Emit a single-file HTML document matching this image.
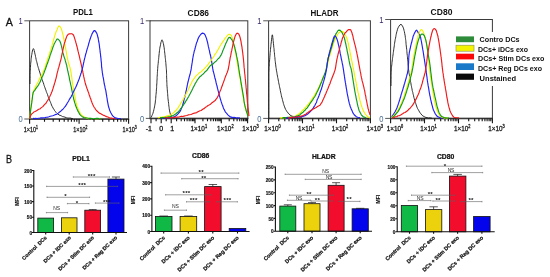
<!DOCTYPE html>
<html><head><meta charset="utf-8"><title>Figure</title>
<style>
html,body{margin:0;padding:0;background:#fff}
svg{display:block}
text{font-family:"Liberation Sans","DejaVu Sans",sans-serif}
.ttl{font-size:8.8px;font-weight:bold;fill:#111}
.pan{font-size:11.2px;fill:#111;stroke:#111;stroke-width:0.3px}
.tk{fill:#1a1a1a;stroke:#1a1a1a;stroke-width:0.3px}
.yl{font-size:8.6px;text-anchor:middle}
.lg{font-size:8px;font-weight:bold;fill:#111}
.bt{font-size:6.8px;font-weight:bold;text-anchor:middle;fill:#111;stroke:#111;stroke-width:0.22px}
.mfi{font-size:5px;font-weight:bold;text-anchor:middle;fill:#111;stroke:#111;stroke-width:0.12px}
.yt{font-size:4.7px;font-weight:bold;text-anchor:end;fill:#111;stroke:#111;stroke-width:0.15px}
.ns{letter-spacing:-0.2px;font-size:5px;text-anchor:middle;fill:#2a2a2a}
.st{letter-spacing:0.2px;font-size:6.2px;font-weight:bold;text-anchor:middle;fill:#111}
.xl{font-weight:bold;text-anchor:end;fill:#111;stroke:#111;stroke-width:0.22px}
</style></head><body>
<svg width="550" height="277" viewBox="0 0 550 277">
<rect width="550" height="277" fill="#fff"/>
<path d="M29.1,119.1 H129.1" stroke="#2a2a2a" stroke-width="1.3"/>
<rect x="29.6" y="20.8" width="99.0" height="98.2" fill="none" stroke="#3a3a3a" stroke-width="1"/>
<text transform="translate(20.5,23.8) scale(0.88,1)" class="yl" fill="#3a2a6a">1</text>
<text transform="translate(20.5,122.1) scale(0.88,1)" class="yl" fill="#4a6f96">0</text>
<path d="M24.3,20.8 h5 M24.3,119.0 h5" stroke="#444" stroke-width="0.9"/>
<path d="M29.6,119.0 v4.8 M44.5,119.0 v2.8 M53.2,119.0 v2.8 M59.4,119.0 v2.8 M64.2,119.0 v2.8 M68.1,119.0 v2.8 M71.4,119.0 v2.8 M74.3,119.0 v2.8 M76.8,119.0 v2.8 M79.1,119.0 v4.8 M94.0,119.0 v2.8 M102.7,119.0 v2.8 M108.9,119.0 v2.8 M113.7,119.0 v2.8 M117.6,119.0 v2.8 M120.9,119.0 v2.8 M123.8,119.0 v2.8 M126.3,119.0 v2.8 M128.6,119.0 v4.8" stroke="#151515" stroke-width="1.1" fill="none"/>
<text transform="translate(23.7,131.5) scale(0.76,1)" class="tk" font-size="7.2">1×10<tspan dy="-2.6" font-size="4.5">1</tspan></text>
<text transform="translate(73.2,131.5) scale(0.76,1)" class="tk" font-size="7.2">1×10<tspan dy="-2.6" font-size="4.5">2</tspan></text>
<text transform="translate(122.5,131.5) scale(0.76,1)" class="tk" font-size="7.2">1×10<tspan dy="-2.6" font-size="4.5">3</tspan></text>
<text x="73" y="14.6" class="ttl" textLength="19.9" lengthAdjust="spacingAndGlyphs">PDL1</text>
<text x="5.8" y="25.9" class="pan" textLength="7.1" lengthAdjust="spacingAndGlyphs">A</text>
<path d="M30.0,84.0 L30.0,83.1 L30.0,82.3 L30.0,81.1 L30.0,80.0 L30.1,78.6 L30.1,76.9 L30.1,75.4 L30.1,74.4 L30.2,72.6 L30.2,71.2 L30.3,70.2 L30.4,68.7 L30.5,67.5 L30.5,66.0 L30.6,64.7 L30.7,63.1 L30.9,62.0 L31.0,60.8 L31.1,59.4 L31.2,58.3 L31.4,57.1 L31.5,55.8 L31.8,54.4 L32.1,52.6 L32.4,51.0 L32.8,49.6 L33.1,49.2 L33.4,48.6 L33.8,49.1 L34.2,50.5 L34.6,52.2 L35.0,54.2 L35.3,55.1 L35.5,56.5 L35.8,57.7 L36.1,59.3 L36.4,60.7 L36.7,61.6 L37.0,62.8 L37.3,64.1 L37.6,65.5 L37.9,66.3 L38.2,67.4 L38.6,68.5 L39.0,70.0 L39.3,70.9 L39.7,72.0 L40.0,73.2 L40.4,74.4 L40.8,75.8 L41.2,76.9 L41.7,78.3 L42.1,79.6 L42.6,80.9 L43.0,82.1 L43.4,82.9 L43.8,84.4 L44.2,85.6 L44.6,86.8 L45.0,87.8 L45.4,89.1 L45.9,90.1 L46.3,91.6 L46.7,92.6 L47.2,93.7 L47.6,94.7 L48.0,96.2 L48.5,97.6 L49.0,98.4 L49.5,100.1 L50.0,101.2 L50.5,102.3 L51.0,103.6 L51.5,105.0 L52.0,106.2 L52.5,106.8 L53.0,108.1 L53.8,109.1 L54.6,110.6 L55.4,111.5 L56.2,112.6 L57.1,113.5 L58.0,114.0 L59.0,115.0 L60.1,115.3 L61.3,115.8 L62.5,116.6 L63.8,116.8 L65.0,117.2 L66.4,117.7 L67.9,118.1 L69.4,118.0 L70.9,118.1 L72.1,118.7 L73.0,118.6" fill="none" stroke="#1a1a1a" stroke-width="0.9" stroke-linejoin="round"/>
<path d="M29.8,118.6 L29.9,117.7 L30.0,117.0 L30.1,115.8 L30.2,114.2 L30.3,112.8 L30.4,111.4 L30.6,110.1 L30.7,108.9 L30.9,107.6 L31.1,106.3 L31.3,105.2 L31.4,103.7 L31.6,102.4 L31.8,101.3 L32.0,99.9 L32.2,98.6 L32.3,97.8 L32.4,96.4 L32.6,95.3 L32.8,93.9 L33.1,92.8 L33.5,91.5 L33.9,90.2 L34.4,89.4 L34.9,88.3 L35.4,86.8 L36.0,85.9 L36.6,84.6 L37.3,83.5 L37.9,82.2 L38.5,81.2 L39.0,80.1 L39.6,78.6 L40.2,77.4 L40.8,76.6 L41.4,75.6 L41.9,74.2 L42.5,73.2 L43.0,72.2 L43.5,71.0 L44.0,69.9 L44.5,68.6 L45.0,67.4 L45.4,66.3 L45.7,64.9 L46.1,63.7 L46.5,62.6 L47.0,60.8 L47.4,60.0 L47.7,58.9 L48.1,57.6 L48.5,56.4 L48.9,55.5 L49.4,54.0 L49.8,52.7 L50.2,51.5 L50.6,50.4 L51.0,48.8 L51.3,47.8 L51.7,46.6 L52.0,45.7 L52.4,44.2 L52.7,43.2 L53.1,41.6 L53.4,40.4 L53.7,39.3 L54.1,38.3 L54.4,37.0 L54.7,35.8 L55.0,34.8 L55.6,33.3 L56.1,31.6 L56.7,30.6 L57.2,29.4 L57.6,28.1 L58.0,27.3 L58.7,26.1 L59.4,26.1 L60.0,26.7 L60.6,27.5 L61.3,28.8 L62.0,30.9 L62.3,32.1 L62.5,32.9 L62.8,34.0 L63.1,35.3 L63.3,36.6 L63.6,37.9 L63.9,39.6 L64.2,40.6 L64.4,42.0 L64.7,43.8 L65.0,45.2 L65.2,46.4 L65.5,47.4 L65.7,48.9 L65.9,50.2 L66.2,51.2 L66.4,52.8 L66.6,54.1 L66.9,55.3 L67.1,56.5 L67.3,57.6 L67.6,58.8 L67.8,59.9 L68.0,60.8 L68.4,62.6 L68.8,63.8 L69.2,65.1 L69.5,65.8 L69.9,67.3 L70.2,68.5 L70.6,70.2 L70.8,71.2 L71.0,72.3 L71.2,73.3 L71.3,74.2 L71.5,75.8 L71.7,76.8 L71.9,78.1 L72.0,79.6 L72.2,80.9 L72.4,82.1 L72.6,83.7 L72.8,84.8 L73.0,85.9 L73.2,87.1 L73.4,88.7 L73.7,89.8 L73.9,91.3 L74.1,92.4 L74.3,93.6 L74.6,95.1 L74.8,96.5 L75.1,97.4 L75.3,98.9 L75.5,100.1 L75.8,101.2 L76.0,102.2 L76.4,103.4 L76.8,105.3 L77.2,106.7 L77.6,107.5 L78.1,108.8 L78.5,109.8 L79.0,111.0 L79.7,112.3 L80.4,113.6 L81.2,114.8 L82.1,115.3 L83.0,116.2 L84.0,116.9 L85.0,117.3 L86.1,117.7 L87.4,118.4 L89.0,118.6 L90.0,118.3 L91.2,118.6 L92.5,118.5 L93.9,118.5 L95.4,118.6 L96.8,118.7 L98.1,118.7 L99.3,118.5 L100.3,118.4 L101.0,118.6" fill="none" stroke="#f2f200" stroke-width="1.15" stroke-linejoin="round"/>
<path d="M29.9,118.6 L30.0,117.7 L30.1,116.6 L30.2,115.6 L30.3,114.3 L30.4,112.8 L30.5,111.2 L30.7,109.8 L30.8,108.7 L31.0,107.6 L31.2,106.4 L31.4,104.9 L31.6,103.8 L31.8,102.4 L31.9,101.1 L32.1,99.9 L32.3,98.5 L32.5,97.2 L32.6,95.7 L32.8,94.6 L33.0,93.4 L33.2,92.4 L33.9,91.3 L35.0,90.1 L35.5,89.0 L36.2,88.2 L36.9,87.1 L37.7,86.2 L38.5,85.0 L39.3,83.3 L40.0,82.2 L40.5,81.1 L41.0,79.7 L41.5,78.6 L42.0,77.3 L42.6,76.3 L43.1,75.0 L43.6,73.8 L44.1,72.5 L44.5,71.3 L45.0,70.1 L45.5,68.8 L46.0,67.3 L46.4,66.3 L46.8,64.8 L47.3,63.7 L47.7,62.8 L48.1,61.3 L48.6,60.1 L49.0,58.8 L49.4,58.0 L49.8,56.4 L50.2,55.1 L50.6,54.2 L51.1,52.5 L51.5,51.6 L51.9,50.3 L52.3,49.2 L52.6,48.2 L53.0,47.0 L53.7,45.4 L54.3,43.6 L54.9,42.7 L55.5,41.5 L56.0,40.7 L57.0,39.0 L58.0,39.1 L58.8,39.9 L59.7,40.8 L60.6,42.9 L60.9,44.0 L61.2,45.2 L61.5,46.2 L61.8,47.5 L62.1,48.9 L62.4,50.4 L62.7,51.8 L63.0,52.9 L63.4,54.2 L63.7,55.5 L64.1,56.8 L64.5,58.1 L65.0,59.3 L65.3,60.7 L65.7,62.1 L66.0,63.0 L66.4,64.6 L66.7,65.4 L66.9,66.8 L67.2,68.2 L67.6,70.1 L67.8,70.9 L68.0,72.0 L68.3,73.2 L68.5,74.5 L68.8,75.4 L69.1,76.7 L69.4,78.4 L69.6,79.8 L69.9,80.9 L70.2,82.2 L70.5,83.7 L70.7,84.7 L71.0,85.9 L71.3,87.2 L71.6,88.8 L71.8,90.0 L72.1,91.3 L72.4,92.9 L72.7,94.3 L72.9,95.3 L73.2,96.7 L73.5,97.7 L73.7,99.1 L74.0,100.0 L74.4,101.5 L74.8,102.9 L75.2,104.1 L75.6,105.6 L76.1,106.7 L76.5,107.7 L77.0,108.9 L77.6,110.2 L78.2,111.7 L78.8,112.5 L79.5,114.0 L80.2,114.8 L81.0,115.6 L81.9,116.4 L82.9,117.1 L83.9,117.5 L85.3,117.7 L87.0,118.0 L88.0,118.2 L89.2,118.4 L90.6,118.3 L92.1,118.5 L93.6,118.7 L95.1,118.5 L96.6,118.4 L98.0,118.4 L99.2,118.7 L100.2,118.7 L101.0,118.6" fill="none" stroke="#0e9a1e" stroke-width="1.15" stroke-linejoin="round"/>
<path d="M29.6,118.6 L29.9,117.9 L30.3,116.5 L31.0,114.9 L31.8,113.9 L32.7,113.1 L33.8,112.1 L35.0,111.5 L36.1,110.9 L37.3,110.3 L38.6,109.3 L39.8,109.0 L41.0,107.9 L42.1,107.1 L43.1,106.4 L44.0,105.2 L45.0,104.1 L46.0,103.2 L46.6,102.0 L47.3,101.0 L47.9,100.1 L48.6,99.0 L49.2,97.5 L49.8,96.5 L50.4,95.3 L51.0,94.0 L51.4,92.8 L51.9,91.8 L52.3,90.8 L52.7,89.4 L53.1,88.2 L53.5,86.8 L53.9,85.6 L54.3,84.5 L54.6,83.0 L55.0,82.2 L55.3,81.0 L55.7,79.4 L56.0,78.6 L56.3,77.1 L56.6,76.1 L56.8,74.9 L57.1,73.4 L57.4,72.4 L57.7,71.2 L58.0,70.2 L58.3,68.6 L58.7,67.7 L59.0,66.6 L59.3,65.3 L59.7,64.1 L60.0,62.7 L60.3,61.6 L60.7,60.3 L61.0,59.1 L61.3,57.9 L61.5,56.6 L61.8,55.1 L62.1,54.0 L62.4,52.6 L62.6,51.0 L62.9,50.0 L63.2,48.6 L63.5,47.1 L63.7,46.3 L64.0,44.8 L64.4,43.3 L64.9,42.0 L65.3,40.5 L65.8,39.1 L66.2,38.0 L66.6,36.9 L67.0,35.9 L68.2,34.3 L69.4,33.8 L70.5,33.8 L71.8,33.7 L73.0,34.4 L73.5,35.3 L73.9,36.1 L74.3,37.2 L74.7,38.6 L75.2,40.2 L75.6,41.3 L76.0,43.0 L76.3,43.9 L76.6,45.3 L76.9,46.2 L77.2,47.4 L77.5,48.7 L77.8,50.0 L78.1,51.4 L78.4,52.4 L78.7,53.9 L79.0,54.8 L79.3,56.0 L79.5,57.1 L79.8,58.3 L80.1,59.8 L80.4,60.9 L80.6,61.8 L80.9,63.0 L81.2,64.3 L81.5,65.7 L81.7,66.9 L82.0,68.1 L82.3,69.3 L82.5,70.3 L82.8,71.7 L83.0,72.9 L83.3,74.4 L83.6,75.7 L83.8,76.9 L84.1,78.2 L84.4,79.7 L84.7,80.6 L85.0,82.2 L85.4,83.5 L85.7,84.8 L86.1,85.7 L86.5,87.0 L86.9,88.2 L87.4,89.4 L87.8,90.8 L88.2,91.8 L88.6,92.7 L89.0,94.2 L89.4,95.3 L89.9,96.7 L90.3,98.0 L90.8,99.0 L91.2,100.6 L91.7,101.8 L92.1,102.9 L92.6,104.0 L93.0,105.0 L93.6,106.2 L94.3,107.5 L94.9,108.2 L95.5,109.3 L96.2,110.2 L97.0,111.0 L97.9,111.8 L98.9,112.8 L99.9,113.4 L100.9,113.7 L102.0,114.6 L103.0,115.1 L104.2,115.4 L105.4,116.1 L106.6,116.6 L107.8,117.0 L109.0,117.6 L110.3,118.1 L111.7,118.1 L113.0,118.5 L114.2,118.6 L115.0,118.6" fill="none" stroke="#f01818" stroke-width="1.15" stroke-linejoin="round"/>
<path d="M33.0,118.6 L33.7,118.4 L34.7,118.6 L35.8,118.4 L37.0,118.5 L38.4,118.3 L39.8,118.1 L41.2,117.8 L42.5,117.9 L43.8,117.8 L45.0,117.6 L46.4,117.2 L47.7,117.1 L49.0,116.7 L50.2,116.3 L51.5,116.0 L52.7,115.7 L53.9,115.3 L55.0,114.8 L56.1,114.4 L57.2,113.9 L58.3,113.1 L59.3,112.2 L60.3,111.6 L61.3,110.6 L62.2,109.8 L63.0,109.1 L63.9,108.0 L64.6,107.0 L65.4,106.4 L66.0,105.3 L66.7,104.1 L67.3,103.0 L68.0,102.0 L68.6,101.0 L69.2,99.8 L69.9,98.6 L70.5,97.6 L71.1,96.8 L71.8,95.3 L72.4,94.2 L73.0,92.8 L73.5,91.8 L74.0,90.8 L74.5,89.8 L75.0,88.6 L75.6,87.5 L76.1,86.4 L76.6,85.3 L77.1,84.3 L77.5,82.9 L78.0,81.8 L78.4,80.8 L78.9,79.6 L79.3,78.6 L79.7,77.1 L80.1,76.1 L80.5,74.9 L80.9,73.5 L81.3,72.7 L81.6,71.1 L82.0,69.8 L82.3,68.8 L82.6,67.5 L82.9,66.6 L83.1,65.3 L83.4,64.0 L83.6,62.8 L83.9,62.0 L84.1,60.5 L84.4,59.6 L84.7,58.2 L85.0,57.2 L85.3,55.8 L85.6,54.5 L86.0,53.3 L86.3,52.4 L86.6,51.0 L87.0,49.7 L87.4,48.3 L87.7,47.4 L88.0,46.4 L88.4,45.1 L88.7,43.7 L89.0,42.8 L89.5,41.2 L89.9,39.7 L90.4,38.3 L90.8,37.0 L91.2,36.1 L91.6,35.2 L92.0,33.9 L92.9,32.4 L93.8,30.9 L94.6,30.6 L95.4,31.1 L96.2,32.4 L97.0,33.8 L97.3,34.8 L97.6,36.0 L97.9,37.3 L98.2,38.2 L98.4,39.7 L98.7,41.5 L99.0,42.8 L99.2,44.0 L99.3,45.0 L99.5,46.4 L99.6,47.8 L99.8,48.7 L100.0,50.3 L100.1,51.7 L100.3,53.1 L100.5,54.2 L100.6,55.7 L100.7,56.7 L100.9,57.9 L101.0,58.9 L101.1,60.6 L101.3,61.8 L101.4,62.9 L101.5,64.0 L101.5,65.4 L101.6,66.5 L101.7,67.7 L101.9,68.7 L102.0,70.0 L102.2,71.0 L102.3,72.5 L102.5,73.4 L102.7,74.8 L102.9,76.2 L103.2,77.4 L103.4,78.3 L103.6,79.6 L103.8,81.0 L104.0,82.1 L104.2,83.5 L104.5,84.8 L104.8,85.8 L105.0,87.2 L105.2,88.3 L105.5,89.3 L105.8,90.6 L106.0,91.8 L106.2,93.1 L106.4,94.6 L106.6,95.4 L106.8,96.9 L107.0,98.0 L107.2,99.3 L107.4,100.8 L107.6,101.8 L107.8,102.8 L108.0,103.8 L108.3,105.6 L108.6,106.8 L108.9,107.7 L109.3,108.9 L109.6,110.2 L110.0,110.9 L110.7,112.5 L111.4,113.7 L112.2,115.1 L113.0,116.1 L114.3,117.2 L115.6,117.9 L117.0,118.2 L118.5,118.5 L120.0,118.5 L121.0,118.7" fill="none" stroke="#2020f0" stroke-width="1.15" stroke-linejoin="round"/>
<path d="M149.5,118.5 H248.3" stroke="#2a2a2a" stroke-width="1.3"/>
<rect x="150.0" y="20.8" width="97.8" height="97.6" fill="none" stroke="#3a3a3a" stroke-width="1"/>
<text transform="translate(142.0,23.8) scale(0.88,1)" class="yl" fill="#3a2a6a">1</text>
<text transform="translate(142.0,121.5) scale(0.88,1)" class="yl" fill="#4a6f96">0</text>
<path d="M145.8,20.8 h5 M145.8,118.4 h5" stroke="#444" stroke-width="0.9"/>
<path d="M151,118.4 v4.8 M161.2,118.4 v4.8 M171.2,118.4 v4.8 M156.1,118.4 v2.8 M166.2,118.4 v2.8" stroke="#151515" stroke-width="1.1"/>
<path d="M176.6,118.4 v2.8 M181.2,118.4 v2.8 M184.5,118.4 v2.8 M187.1,118.4 v2.8 M189.2,118.4 v2.8 M190.9,118.4 v2.8 M192.5,118.4 v2.8 M193.8,118.4 v2.8 M195.0,118.4 v4.8 M202.9,118.4 v2.8 M207.5,118.4 v2.8 M210.8,118.4 v2.8 M213.4,118.4 v2.8 M215.5,118.4 v2.8 M217.2,118.4 v2.8 M218.8,118.4 v2.8 M220.1,118.4 v2.8 M221.3,118.4 v4.8 M229.2,118.4 v2.8 M233.8,118.4 v2.8 M237.1,118.4 v2.8 M239.7,118.4 v2.8 M241.8,118.4 v2.8 M243.5,118.4 v2.8 M245.1,118.4 v2.8 M246.4,118.4 v2.8 M247.6,118.4 v4.8" stroke="#151515" stroke-width="1.1" fill="none"/>
<text x="148.9" y="131" class="tk" font-size="7" text-anchor="middle">-1</text>
<text x="161.2" y="131" class="tk" font-size="7" text-anchor="middle">0</text>
<text x="172.2" y="131" class="tk" font-size="7" text-anchor="middle">1</text>
<text transform="translate(190.6,131.0) scale(0.87,1)" class="tk" font-size="7.3">1×10<tspan dy="-2.6" font-size="4.5">1</tspan></text>
<text transform="translate(217.1,131.0) scale(0.87,1)" class="tk" font-size="7.3">1×10<tspan dy="-2.6" font-size="4.5">2</tspan></text>
<text transform="translate(242.2,131.0) scale(0.87,1)" class="tk" font-size="7.3">1×10<tspan dy="-2.6" font-size="4.5">3</tspan></text>
<text x="187.6" y="16.2" class="ttl" textLength="21.4" lengthAdjust="spacingAndGlyphs">CD86</text>
<path d="M151.0,117.6 L151.4,117.0 L151.9,115.7 L152.5,114.3 L153.0,113.2 L153.3,111.8 L153.6,111.1 L153.9,109.5 L154.2,108.4 L154.5,106.9 L154.7,105.8 L155.0,104.1 L155.2,103.0 L155.3,102.0 L155.4,100.9 L155.6,99.5 L155.7,98.4 L155.8,97.0 L155.9,95.5 L156.0,94.6 L156.2,93.0 L156.3,91.7 L156.4,89.9 L156.5,88.9 L156.6,87.7 L156.6,86.7 L156.7,85.1 L156.8,83.9 L156.9,82.7 L156.9,81.2 L157.0,80.1 L157.1,78.8 L157.1,77.4 L157.2,76.2 L157.3,74.8 L157.4,73.4 L157.4,72.2 L157.5,71.4 L157.6,69.9 L157.7,68.5 L157.8,66.9 L157.9,65.6 L158.1,64.2 L158.2,63.3 L158.3,61.9 L158.4,60.7 L158.6,59.5 L158.7,58.2 L158.8,57.3 L158.9,56.0 L159.0,55.0 L159.2,53.5 L159.3,52.0 L159.5,50.7 L159.6,49.3 L159.8,48.3 L160.0,47.0 L160.3,45.9 L160.6,44.3 L160.9,42.5 L161.3,41.5 L161.7,40.2 L162.0,39.8 L162.3,40.4 L162.7,40.9 L163.0,42.2 L163.4,43.7 L163.7,45.0 L164.0,47.1 L164.2,47.9 L164.3,49.2 L164.5,50.4 L164.6,51.9 L164.8,53.3 L164.9,54.5 L165.1,55.8 L165.2,57.3 L165.4,58.6 L165.5,59.7 L165.6,60.8 L165.8,62.6 L165.9,63.8 L166.0,65.1 L166.1,66.2 L166.2,67.3 L166.3,68.3 L166.4,69.8 L166.5,70.9 L166.5,72.1 L166.5,73.2 L166.6,74.4 L166.6,75.6 L166.6,77.1 L166.7,78.1 L166.7,79.5 L166.8,81.0 L166.8,82.3 L166.9,83.4 L166.9,84.6 L167.0,86.2 L167.1,87.0 L167.2,88.3 L167.3,89.8 L167.4,91.1 L167.5,92.2 L167.6,93.4 L167.7,94.8 L167.8,96.3 L167.9,97.4 L168.0,98.9 L168.2,100.0 L168.3,101.2 L168.4,101.8 L168.6,103.3 L168.7,104.7 L168.9,106.2 L169.1,107.5 L169.2,108.6 L169.4,110.0 L169.6,110.9 L169.8,112.0 L170.0,112.9 L170.6,114.9 L171.3,115.9 L171.9,116.8 L172.4,117.6" fill="none" stroke="#1a1a1a" stroke-width="0.9" stroke-linejoin="round"/>
<path d="M160.0,117.7 L160.7,117.5 L161.7,117.7 L162.9,117.8 L164.2,117.8 L165.6,118.0 L167.1,117.9 L168.5,117.6 L169.8,117.5 L171.0,117.7 L172.0,117.5 L173.6,117.0 L174.9,116.6 L176.0,115.8 L177.0,114.8 L178.0,113.8 L178.8,112.8 L179.5,112.2 L180.2,111.2 L180.8,110.0 L181.4,108.4 L182.0,107.1 L182.4,106.2 L182.7,105.0 L183.1,103.8 L183.4,102.5 L183.7,101.3 L184.0,99.9 L184.4,98.6 L184.7,97.5 L185.0,96.2 L185.3,94.9 L185.5,93.6 L185.8,92.3 L186.1,91.0 L186.4,89.9 L186.6,88.4 L186.9,87.3 L187.2,85.6 L187.5,84.4 L187.7,83.2 L188.0,82.0 L188.3,80.9 L188.6,79.7 L188.9,78.5 L189.2,77.2 L189.6,75.7 L189.9,74.8 L190.2,73.6 L190.5,72.4 L190.7,71.1 L191.0,70.1 L191.2,68.9 L191.4,67.2 L191.6,66.2 L191.8,64.8 L192.0,63.5 L192.2,62.4 L192.4,61.1 L192.6,59.6 L192.8,58.1 L193.0,57.2 L193.3,55.6 L193.5,54.4 L193.8,53.4 L194.1,51.8 L194.4,50.6 L194.8,49.7 L195.1,48.5 L195.4,47.0 L195.7,46.0 L196.0,44.9 L196.4,43.4 L196.8,42.2 L197.3,41.3 L197.7,39.7 L198.1,38.7 L198.5,37.7 L199.0,36.8 L199.9,35.5 L200.8,34.4 L201.7,33.5 L202.6,33.1 L203.5,33.4 L204.3,33.8 L205.2,35.1 L206.0,37.2 L206.3,37.7 L206.6,38.8 L206.9,40.0 L207.2,41.1 L207.6,42.5 L207.8,43.6 L208.1,45.0 L208.4,46.7 L208.7,47.6 L209.0,49.2 L209.3,50.1 L209.6,51.7 L209.8,52.8 L210.1,54.0 L210.4,55.0 L210.7,56.2 L210.9,57.8 L211.2,58.6 L211.4,59.8 L211.6,61.2 L211.8,62.6 L212.0,63.5 L212.2,65.1 L212.4,66.1 L212.5,67.2 L212.7,68.4 L213.0,69.9 L213.2,71.3 L213.5,72.1 L213.8,73.2 L214.1,74.4 L214.4,75.6 L214.7,77.0 L215.0,78.5 L215.4,79.3 L215.7,80.6 L216.0,82.2 L216.3,83.5 L216.6,84.7 L216.9,85.5 L217.2,86.8 L217.5,88.4 L217.8,89.3 L218.1,90.6 L218.4,91.6 L218.7,92.6 L219.0,93.9 L219.4,95.5 L219.8,96.9 L220.1,98.1 L220.5,99.3 L220.9,100.6 L221.2,101.7 L221.6,102.9 L222.0,104.2 L222.5,105.2 L223.0,106.7 L223.4,108.0 L223.9,109.1 L224.4,109.8 L225.0,111.2 L225.7,112.4 L226.5,113.1 L227.3,114.2 L228.1,115.1 L229.0,115.8 L230.2,116.9 L231.4,117.1 L232.7,117.6 L234.0,117.4 L235.2,117.5 L236.6,118.0 L238.0,117.9 L239.2,118.0 L240.0,117.8" fill="none" stroke="#2020f0" stroke-width="1.15" stroke-linejoin="round"/>
<path d="M158.0,117.6 L158.9,117.6 L160.1,117.3 L161.6,117.3 L163.2,116.7 L164.7,116.7 L166.0,116.4 L167.3,115.9 L168.6,115.7 L169.8,115.1 L170.9,114.7 L172.0,113.9 L173.1,113.1 L174.1,112.2 L175.1,111.2 L176.1,110.3 L177.0,109.2 L177.7,108.3 L178.4,107.3 L179.1,106.0 L179.7,105.3 L180.3,104.0 L181.0,102.8 L181.7,101.9 L182.3,100.9 L183.0,99.5 L183.7,98.5 L184.3,97.1 L185.0,96.2 L185.6,94.9 L186.1,93.8 L186.7,92.7 L187.3,91.7 L187.9,90.6 L188.4,89.2 L189.0,88.0 L189.6,86.9 L190.1,85.4 L190.7,84.4 L191.2,83.5 L191.8,82.3 L192.4,80.8 L193.0,80.2 L193.8,78.8 L194.6,78.0 L195.4,76.7 L196.3,75.6 L197.2,74.9 L198.0,74.2 L199.0,73.1 L199.9,72.6 L200.9,71.9 L201.9,71.0 L203.0,69.9 L203.8,69.2 L204.6,68.3 L205.5,67.3 L206.4,66.4 L207.4,65.4 L208.3,64.2 L209.2,62.9 L210.0,61.9 L210.7,61.0 L211.4,60.1 L212.1,58.8 L212.8,57.7 L213.5,56.8 L214.2,55.8 L214.8,54.6 L215.4,53.9 L216.0,53.2 L216.8,51.7 L217.5,50.6 L218.1,49.5 L218.7,48.4 L219.4,47.3 L220.0,46.0 L220.7,45.0 L221.4,43.7 L222.1,43.0 L222.7,41.8 L223.4,40.9 L224.0,40.2 L224.8,38.7 L225.6,37.6 L226.3,36.9 L227.0,36.0 L228.2,34.6 L229.4,34.2 L230.3,34.7 L231.2,35.3 L232.0,37.2 L232.4,37.8 L232.7,39.1 L233.0,40.5 L233.4,42.0 L233.7,43.5 L234.0,45.1 L234.2,46.2 L234.5,47.3 L234.8,48.3 L235.0,50.0 L235.2,51.1 L235.5,52.1 L235.8,53.6 L236.0,55.1 L236.2,56.3 L236.4,57.0 L236.6,58.1 L236.8,59.4 L236.9,60.5 L237.1,61.9 L237.3,63.1 L237.5,64.2 L237.8,65.5 L238.0,67.0 L238.2,68.3 L238.4,69.1 L238.6,70.3 L238.8,71.4 L239.0,73.0 L239.3,74.0 L239.5,75.7 L239.7,76.8 L240.0,78.1 L240.2,79.2 L240.4,80.5 L240.6,81.8 L240.8,83.1 L241.0,84.0 L241.2,85.3 L241.5,87.0 L241.7,88.1 L241.9,89.2 L242.1,90.2 L242.2,91.4 L242.4,92.8 L242.6,93.6 L242.8,94.9 L243.0,96.1 L243.2,97.2 L243.4,98.7 L243.6,100.0 L243.8,101.2 L244.0,102.4 L244.3,103.4 L244.5,104.5 L244.7,105.8 L245.0,106.9 L245.4,108.3 L245.9,110.2 L246.4,111.3 L246.9,113.0 L247.3,114.4 L247.7,115.0 L248.0,116.0" fill="none" stroke="#f2f200" stroke-width="1.15" stroke-linejoin="round"/>
<path d="M160.0,117.6 L160.8,117.8 L161.9,117.6 L163.2,117.5 L164.6,117.4 L166.0,117.2 L167.1,117.2 L168.3,116.9 L169.6,116.9 L170.8,116.6 L171.9,115.8 L173.0,115.6 L174.1,115.0 L175.2,114.2 L176.2,113.5 L177.1,112.7 L178.0,112.1 L178.9,111.0 L179.7,110.0 L180.4,109.0 L181.2,108.1 L182.0,107.0 L182.7,105.9 L183.3,105.2 L184.0,104.0 L184.7,103.2 L185.3,102.1 L186.0,100.8 L186.7,100.0 L187.3,98.7 L188.0,97.6 L188.7,96.5 L189.3,95.3 L190.0,94.0 L190.6,92.7 L191.1,91.9 L191.7,90.8 L192.3,89.4 L192.9,88.3 L193.4,87.0 L194.0,86.2 L194.7,84.8 L195.3,83.3 L196.0,82.4 L196.7,81.3 L197.3,79.9 L198.0,79.2 L199.0,77.8 L199.9,76.7 L200.9,76.1 L202.0,74.9 L203.0,74.2 L204.0,73.1 L205.1,71.8 L206.1,71.0 L207.0,70.2 L207.9,68.9 L208.6,67.9 L209.2,67.1 L210.0,66.0 L210.9,65.2 L211.9,64.5 L213.0,64.0 L214.0,62.9 L215.0,61.9 L216.1,61.2 L217.1,60.0 L218.0,58.9 L218.8,58.3 L219.6,57.4 L220.3,56.2 L221.0,55.2 L221.5,54.2 L222.0,53.0 L222.5,51.6 L223.0,50.2 L223.5,49.3 L224.0,48.1 L224.5,46.7 L225.0,45.5 L225.5,44.3 L226.0,43.0 L226.5,42.1 L227.0,41.0 L227.8,39.3 L228.6,37.8 L229.4,37.4 L230.3,37.6 L231.2,38.8 L232.0,39.8 L232.5,41.0 L233.0,42.0 L233.5,43.4 L234.0,45.0 L234.3,45.9 L234.7,47.1 L235.0,48.7 L235.3,49.9 L235.7,51.5 L236.0,52.8 L236.3,54.0 L236.5,55.4 L236.8,56.9 L237.1,58.2 L237.3,59.4 L237.6,60.6 L237.8,61.7 L238.0,62.9 L238.2,64.4 L238.4,66.0 L238.6,66.8 L238.8,68.6 L239.0,70.0 L239.2,71.0 L239.3,72.0 L239.5,73.5 L239.7,74.3 L239.9,75.7 L240.2,77.0 L240.4,78.1 L240.6,79.4 L240.8,81.0 L241.0,82.1 L241.2,83.3 L241.4,84.6 L241.6,85.4 L241.8,86.9 L242.0,88.1 L242.2,89.1 L242.4,90.4 L242.6,91.8 L242.8,92.7 L243.0,94.1 L243.2,95.0 L243.4,96.5 L243.6,97.5 L243.8,98.9 L243.9,100.0 L244.1,101.5 L244.3,102.6 L244.5,103.7 L244.8,105.0 L245.0,106.0 L245.3,107.4 L245.7,108.5 L246.0,110.0 L246.4,111.3 L246.8,112.5 L247.2,113.5 L247.5,114.7 L247.8,115.8 L248.0,116.4" fill="none" stroke="#0e9a1e" stroke-width="1.15" stroke-linejoin="round"/>
<path d="M165.0,117.7 L165.8,117.5 L166.9,117.8 L168.2,117.7 L169.6,117.8 L171.1,117.7 L172.6,117.6 L174.0,117.3 L175.2,117.1 L176.5,117.2 L177.8,117.1 L179.1,117.0 L180.4,116.5 L181.6,116.2 L182.8,116.5 L184.0,116.1 L185.4,115.7 L186.8,115.5 L188.1,114.9 L189.4,114.8 L190.7,114.5 L192.0,114.1 L193.2,113.5 L194.3,113.1 L195.5,112.9 L196.7,112.6 L197.9,111.8 L199.0,111.2 L200.0,110.8 L201.1,110.5 L202.1,109.7 L203.1,109.0 L204.1,108.6 L205.0,107.7 L206.0,106.9 L207.0,106.4 L208.0,105.5 L209.1,105.0 L210.1,104.5 L211.1,103.6 L212.0,102.8 L213.1,102.1 L214.1,101.2 L215.1,100.6 L216.1,99.1 L217.0,98.2 L217.5,97.0 L218.1,96.2 L218.6,95.0 L219.1,94.0 L219.5,92.6 L220.0,91.3 L220.5,90.2 L221.0,89.2 L221.4,87.8 L221.9,86.5 L222.4,85.3 L222.8,83.9 L223.3,82.7 L223.7,81.6 L224.2,80.3 L224.6,79.2 L225.0,77.9 L225.5,76.5 L226.0,75.3 L226.4,74.4 L226.8,73.3 L227.2,72.5 L227.6,71.2 L228.0,70.1 L228.3,69.0 L228.5,67.8 L228.7,66.6 L229.0,65.3 L229.2,63.9 L229.4,62.6 L229.6,61.2 L229.8,60.3 L230.0,59.0 L230.2,57.5 L230.5,56.6 L230.8,55.2 L231.0,53.9 L231.2,52.6 L231.5,51.2 L231.8,50.4 L232.0,48.8 L232.3,47.6 L232.6,46.5 L232.9,44.7 L233.1,43.6 L233.4,42.3 L233.7,41.0 L234.0,40.2 L234.5,38.3 L235.0,36.6 L235.5,35.6 L236.0,34.4 L236.8,33.4 L237.6,33.2 L238.2,33.6 L238.9,34.2 L239.6,36.1 L239.9,36.8 L240.2,38.0 L240.5,39.2 L240.8,40.5 L241.1,41.9 L241.3,43.6 L241.6,44.8 L241.8,46.3 L242.0,47.0 L242.1,48.6 L242.3,49.4 L242.4,50.5 L242.6,52.1 L242.8,53.2 L242.9,54.6 L243.1,55.8 L243.2,57.1 L243.3,58.0 L243.5,59.6 L243.6,60.7 L243.7,62.2 L243.8,63.0 L243.9,64.3 L244.0,65.9 L244.1,67.4 L244.3,68.5 L244.4,70.1 L244.5,71.2 L244.6,72.2 L244.7,73.4 L244.9,74.7 L245.0,75.6 L245.1,77.0 L245.2,78.4 L245.4,79.4 L245.5,80.8 L245.6,82.0 L245.7,83.3 L245.9,84.8 L246.0,86.1 L246.1,87.4 L246.2,88.3 L246.3,89.4 L246.4,90.7 L246.5,91.9 L246.6,93.2 L246.8,94.7 L246.9,95.9 L247.0,97.0 L247.1,98.2 L247.2,99.4 L247.3,100.6 L247.4,101.9 L247.5,102.8 L247.6,104.2 L247.8,105.5 L247.9,106.9 L248.1,108.4 L248.2,109.6 L248.4,111.2 L248.6,112.5 L248.7,113.4 L248.8,114.6 L248.9,115.2 L249.0,116.0" fill="none" stroke="#f01818" stroke-width="1.15" stroke-linejoin="round"/>
<path d="M268.1,118.5 H370.9" stroke="#2a2a2a" stroke-width="1.3"/>
<rect x="268.6" y="20.8" width="101.8" height="97.6" fill="none" stroke="#3a3a3a" stroke-width="1"/>
<text transform="translate(259.4,23.8) scale(0.88,1)" class="yl" fill="#3a2a6a">1</text>
<text transform="translate(259.4,121.5) scale(0.88,1)" class="yl" fill="#4a6f96">0</text>
<path d="M263.2,20.8 h5 M263.2,118.4 h5" stroke="#444" stroke-width="0.9"/>
<path d="M268.6,118.4 v4.8 M278.8,118.4 v2.8 M284.8,118.4 v2.8 M289.0,118.4 v2.8 M292.3,118.4 v2.8 M295.0,118.4 v2.8 M297.3,118.4 v2.8 M299.2,118.4 v2.8 M301.0,118.4 v2.8 M302.5,118.4 v4.8 M312.7,118.4 v2.8 M318.7,118.4 v2.8 M323.0,118.4 v2.8 M326.3,118.4 v2.8 M328.9,118.4 v2.8 M331.2,118.4 v2.8 M333.2,118.4 v2.8 M334.9,118.4 v2.8 M336.5,118.4 v4.8 M346.7,118.4 v2.8 M352.7,118.4 v2.8 M356.9,118.4 v2.8 M360.2,118.4 v2.8 M362.9,118.4 v2.8 M365.1,118.4 v2.8 M367.1,118.4 v2.8 M368.8,118.4 v2.8 M370.4,118.4 v4.8" stroke="#151515" stroke-width="1.1" fill="none"/>
<text transform="translate(264.2,130.6) scale(0.87,1)" class="tk" font-size="7.3">1×10<tspan dy="-2.6" font-size="4.5">0</tspan></text>
<text transform="translate(298.0,130.6) scale(0.87,1)" class="tk" font-size="7.3">1×10<tspan dy="-2.6" font-size="4.5">1</tspan></text>
<text transform="translate(331.8,130.6) scale(0.87,1)" class="tk" font-size="7.3">1×10<tspan dy="-2.6" font-size="4.5">2</tspan></text>
<text transform="translate(366.5,130.6) scale(0.87,1)" class="tk" font-size="7.3">1×10<tspan dy="-2.6" font-size="4.5">3</tspan></text>
<text x="310.6" y="16" class="ttl" textLength="28" lengthAdjust="spacingAndGlyphs">HLADR</text>
<path d="M268.9,118.0 L268.9,117.2 L268.9,116.4 L268.9,115.4 L268.9,114.5 L268.9,113.3 L268.9,112.1 L268.9,110.5 L268.9,109.4 L268.9,107.9 L268.9,106.5 L268.9,105.1 L268.9,103.7 L268.9,102.3 L268.9,101.1 L268.9,100.1 L268.9,98.8 L268.9,97.6 L268.9,96.0 L268.9,95.1 L268.9,93.8 L268.9,92.5 L268.9,91.4 L268.9,89.7 L268.9,88.8 L268.9,87.7 L268.9,86.1 L268.9,85.2 L268.9,84.2 L268.9,82.6 L268.9,81.5 L268.9,80.3 L268.9,78.8 L268.9,77.4 L268.9,76.2 L268.9,75.2 L268.9,73.8 L268.9,72.5 L269.0,71.3 L269.0,70.2 L269.1,68.7 L269.1,67.3 L269.2,66.5 L269.3,64.9 L269.3,63.7 L269.4,62.7 L269.5,61.1 L269.6,59.8 L269.7,58.9 L269.8,57.3 L269.9,56.1 L270.0,55.2 L270.1,53.5 L270.2,52.5 L270.4,50.8 L270.5,49.4 L270.6,48.0 L270.8,46.8 L270.9,45.5 L271.0,44.2 L271.2,43.0 L271.3,41.9 L271.4,41.2 L271.6,39.2 L271.8,37.4 L272.0,36.0 L272.2,34.8 L272.4,34.9 L272.5,35.3 L272.7,36.1 L272.8,37.6 L273.0,39.0 L273.1,40.5 L273.3,41.9 L273.4,43.3 L273.6,45.0 L273.7,45.9 L273.8,47.5 L274.0,48.5 L274.1,49.8 L274.2,51.5 L274.4,52.5 L274.5,54.2 L274.6,55.2 L274.7,56.7 L274.9,57.6 L275.0,59.2 L275.1,60.3 L275.3,61.5 L275.4,62.9 L275.6,64.0 L275.7,64.9 L275.8,66.0 L276.0,67.4 L276.2,68.4 L276.4,70.2 L276.6,71.1 L276.8,72.2 L277.0,73.5 L277.2,74.7 L277.5,76.1 L277.7,77.5 L278.0,78.7 L278.2,80.0 L278.5,81.3 L278.7,82.7 L279.0,84.1 L279.3,85.3 L279.5,86.7 L279.8,87.9 L280.1,89.1 L280.3,90.4 L280.6,92.1 L280.9,93.2 L281.2,94.4 L281.4,95.7 L281.7,97.1 L282.0,97.9 L282.4,99.4 L282.7,100.8 L283.1,102.0 L283.4,103.5 L283.8,104.7 L284.2,105.9 L284.6,106.9 L285.0,108.0 L285.6,109.4 L286.2,110.3 L286.9,111.7 L287.6,112.2 L288.3,113.4 L289.0,113.8 L290.1,115.2 L291.2,115.7 L292.5,116.3 L294.0,117.0 L295.3,117.5 L296.7,117.7 L298.3,117.9 L299.8,118.1 L301.1,117.7 L302.0,118.0" fill="none" stroke="#1a1a1a" stroke-width="0.9" stroke-linejoin="round"/>
<path d="M280.0,118.0 L280.8,117.9 L281.8,117.6 L283.0,117.9 L284.4,117.6 L285.9,117.6 L287.4,117.5 L288.9,117.4 L290.4,117.1 L291.8,117.0 L293.0,116.6 L294.0,116.2 L295.7,116.1 L297.0,115.0 L298.1,114.4 L299.0,114.0 L300.0,112.9 L301.1,112.2 L302.1,110.9 L303.0,110.0 L304.0,109.2 L305.0,107.8 L305.8,107.1 L306.7,106.3 L307.6,104.9 L308.4,104.1 L309.2,103.1 L310.0,102.1 L310.7,101.1 L311.4,100.1 L312.1,98.8 L312.7,97.9 L313.3,97.1 L314.0,96.2 L314.7,94.8 L315.3,93.9 L316.0,92.5 L316.7,91.7 L317.3,90.3 L318.0,89.0 L318.5,88.1 L319.0,86.7 L319.5,85.9 L320.0,84.8 L320.5,83.7 L321.0,82.3 L321.5,81.1 L322.0,79.8 L322.5,79.0 L323.0,77.7 L323.5,76.5 L324.0,75.4 L324.5,74.3 L325.0,72.8 L325.5,71.4 L326.0,70.1 L326.3,69.1 L326.7,67.7 L327.0,66.3 L327.3,65.5 L327.7,64.1 L328.0,62.7 L328.3,61.3 L328.7,60.3 L329.0,58.7 L329.3,57.3 L329.7,56.0 L330.0,54.9 L330.4,53.8 L330.7,52.4 L331.1,51.4 L331.5,50.0 L331.8,48.7 L332.2,47.5 L332.5,46.3 L332.9,45.2 L333.3,44.0 L333.6,43.0 L334.0,42.0 L334.6,40.7 L335.2,39.0 L335.8,38.1 L336.4,36.7 L336.9,35.9 L337.5,34.6 L338.0,34.0 L339.1,32.5 L340.0,31.9 L341.0,31.3 L342.5,31.5 L344.0,32.8 L344.6,33.9 L345.2,35.0 L345.9,36.0 L346.5,37.4 L347.0,38.8 L347.4,40.4 L347.7,41.4 L348.1,42.8 L348.4,44.0 L348.7,45.6 L349.0,47.2 L349.2,48.2 L349.5,49.1 L349.8,50.6 L350.0,51.9 L350.2,52.9 L350.5,54.6 L350.8,55.6 L351.0,56.9 L351.2,58.3 L351.5,59.5 L351.7,60.6 L352.0,62.0 L352.2,63.0 L352.5,64.2 L352.7,65.4 L353.0,67.0 L353.2,68.0 L353.4,69.2 L353.7,70.3 L353.9,71.3 L354.2,72.5 L354.4,73.8 L354.6,75.0 L354.9,76.6 L355.1,77.7 L355.4,78.7 L355.6,80.1 L355.8,81.3 L356.1,82.3 L356.3,83.9 L356.6,84.8 L356.8,86.4 L357.0,87.2 L357.3,88.5 L357.5,89.6 L357.8,91.1 L358.0,92.2 L358.3,93.4 L358.6,94.5 L358.9,95.9 L359.2,97.4 L359.5,98.3 L359.8,99.9 L360.1,101.0 L360.4,102.2 L360.8,103.4 L361.1,104.6 L361.5,106.0 L361.8,106.8 L362.2,107.9 L362.6,108.8 L363.0,109.8 L363.7,111.7 L364.4,112.6 L365.2,114.1 L366.0,114.9 L367.0,116.1 L368.2,116.9 L369.3,117.6 L370.0,118.0" fill="none" stroke="#f2f200" stroke-width="1.15" stroke-linejoin="round"/>
<path d="M282.0,118.0 L282.8,118.1 L283.8,117.6 L285.0,117.6 L286.4,117.5 L287.9,117.4 L289.4,117.4 L290.9,117.4 L292.4,117.1 L293.8,117.0 L295.0,116.7 L296.0,116.3 L297.7,115.9 L299.0,115.4 L300.1,114.7 L301.0,113.7 L302.0,112.9 L303.1,112.2 L304.1,111.0 L305.1,110.3 L306.1,108.8 L307.0,108.1 L307.7,107.1 L308.4,105.9 L309.1,105.1 L309.7,104.0 L310.3,103.2 L311.0,102.2 L311.7,101.1 L312.3,100.3 L313.0,99.3 L313.7,98.0 L314.3,97.3 L315.0,96.2 L315.6,95.2 L316.1,94.0 L316.7,92.8 L317.3,91.5 L317.9,90.6 L318.4,89.1 L319.0,88.1 L319.5,86.9 L320.0,85.8 L320.5,84.2 L321.1,82.9 L321.6,81.9 L322.1,80.5 L322.5,79.1 L323.0,78.0 L323.5,76.7 L324.0,75.7 L324.4,74.6 L324.8,73.4 L325.2,72.7 L325.6,71.5 L326.0,70.1 L326.3,68.8 L326.5,67.6 L326.7,66.6 L326.9,65.4 L327.1,64.1 L327.3,62.6 L327.5,61.5 L327.7,60.2 L328.0,58.9 L328.3,57.7 L328.7,56.4 L329.1,55.3 L329.4,54.1 L329.8,52.9 L330.2,51.3 L330.6,50.3 L331.0,49.2 L331.4,47.8 L331.8,46.4 L332.2,45.3 L332.5,43.5 L332.9,42.6 L333.3,41.3 L333.7,40.1 L334.0,38.9 L334.5,37.6 L335.0,36.0 L335.5,35.0 L335.9,33.8 L336.4,33.2 L337.3,31.7 L338.1,30.5 L339.0,30.1 L340.3,30.4 L341.6,32.0 L342.2,32.8 L342.8,34.3 L343.4,35.6 L344.0,37.1 L344.4,37.9 L344.7,39.5 L345.0,40.4 L345.3,42.1 L345.7,43.5 L346.0,44.8 L346.2,46.1 L346.5,47.6 L346.8,48.7 L347.0,49.8 L347.2,51.3 L347.5,52.4 L347.8,53.9 L348.0,55.0 L348.3,56.1 L348.5,57.9 L348.8,58.8 L349.0,60.2 L349.3,61.8 L349.5,62.7 L349.8,64.0 L350.0,65.2 L350.4,66.5 L350.7,67.4 L351.1,68.6 L351.4,70.2 L351.6,71.0 L351.8,72.2 L352.0,73.2 L352.2,74.5 L352.4,76.1 L352.6,77.5 L352.8,78.4 L353.0,79.8 L353.2,81.0 L353.4,82.5 L353.6,83.4 L353.8,84.6 L354.0,86.1 L354.2,87.1 L354.4,88.7 L354.6,89.7 L354.8,91.1 L355.0,92.2 L355.2,93.2 L355.5,94.8 L355.8,95.9 L356.0,97.1 L356.2,98.3 L356.5,99.8 L356.8,100.9 L357.0,101.9 L357.3,103.6 L357.6,104.8 L357.9,106.2 L358.3,107.4 L358.6,108.8 L359.0,110.2 L359.5,111.3 L360.1,112.4 L360.7,113.6 L361.3,114.8 L362.0,115.5 L363.4,116.9 L364.9,117.3 L366.0,118.0" fill="none" stroke="#0e9a1e" stroke-width="1.15" stroke-linejoin="round"/>
<path d="M286.0,118.0 L286.8,118.1 L287.7,117.9 L288.9,117.9 L290.2,117.6 L291.6,117.3 L293.1,117.3 L294.6,117.4 L296.1,116.9 L297.5,116.8 L298.8,117.0 L300.0,116.9 L301.0,116.8 L302.8,116.4 L304.1,115.9 L305.2,115.6 L306.1,115.0 L307.0,114.4 L308.1,113.7 L309.1,112.7 L310.0,111.9 L311.0,110.9 L311.7,110.1 L312.4,109.0 L313.1,108.5 L313.7,107.2 L314.4,106.2 L315.0,105.2 L315.6,103.8 L316.1,103.0 L316.6,101.9 L317.0,100.3 L317.5,99.0 L318.0,98.2 L318.4,97.1 L318.9,96.0 L319.3,94.7 L319.7,93.7 L320.1,92.3 L320.6,91.1 L321.0,90.0 L321.4,89.0 L321.8,87.4 L322.2,86.6 L322.5,84.9 L322.9,84.1 L323.3,82.4 L323.7,81.4 L324.0,80.2 L324.3,79.0 L324.7,77.5 L325.0,76.4 L325.3,75.0 L325.6,74.0 L325.9,72.4 L326.1,71.5 L326.4,70.0 L326.6,68.6 L326.8,67.9 L326.9,66.4 L327.1,65.0 L327.2,63.9 L327.4,62.5 L327.6,61.4 L327.8,60.4 L328.0,59.2 L328.2,57.9 L328.5,56.8 L328.8,55.5 L329.1,54.2 L329.4,52.8 L329.8,51.5 L330.1,50.2 L330.4,49.2 L330.7,47.9 L331.0,47.1 L331.4,45.4 L331.8,44.0 L332.2,42.6 L332.6,41.3 L333.0,39.8 L333.3,38.8 L333.6,38.1 L334.3,36.1 L335.0,36.1 L335.6,36.7 L336.3,37.4 L337.0,39.2 L337.3,40.1 L337.7,41.4 L338.0,42.6 L338.3,44.1 L338.7,45.6 L339.0,46.8 L339.2,48.2 L339.5,49.4 L339.8,50.6 L340.0,52.0 L340.2,53.4 L340.5,54.6 L340.8,55.9 L341.0,56.8 L341.2,58.3 L341.5,59.5 L341.8,60.8 L342.0,61.6 L342.2,62.9 L342.5,64.5 L342.8,65.5 L343.0,67.1 L343.2,68.2 L343.4,69.4 L343.6,70.7 L343.8,72.1 L344.0,73.6 L344.2,74.7 L344.4,76.2 L344.6,77.3 L344.8,78.8 L345.0,80.1 L345.2,81.4 L345.4,82.7 L345.6,83.5 L345.8,85.2 L346.0,86.2 L346.2,87.3 L346.4,88.6 L346.6,89.5 L346.8,90.8 L347.0,92.2 L347.2,93.5 L347.5,94.9 L347.7,95.8 L348.0,97.1 L348.2,98.4 L348.5,99.7 L348.7,101.0 L349.0,101.9 L349.3,103.4 L349.7,104.5 L350.0,105.6 L350.4,107.0 L350.8,107.7 L351.2,109.0 L351.6,109.8 L352.2,111.1 L352.8,112.6 L353.5,113.7 L354.2,114.8 L355.0,115.5 L356.3,116.7 L357.7,117.3 L359.1,117.5 L360.0,118.0" fill="none" stroke="#2020f0" stroke-width="1.15" stroke-linejoin="round"/>
<path d="M288.0,118.0 L288.8,117.7 L289.8,118.0 L291.0,117.6 L292.4,117.3 L293.9,117.2 L295.3,117.3 L296.7,116.8 L297.9,116.7 L299.0,116.7 L300.5,116.2 L301.8,115.9 L302.9,115.6 L303.9,115.1 L305.0,114.5 L306.1,113.9 L307.1,113.0 L308.0,112.5 L309.0,111.7 L310.0,111.0 L311.2,110.2 L312.5,109.6 L313.8,108.6 L315.0,108.1 L316.3,107.5 L317.6,106.4 L318.9,105.8 L320.0,105.2 L320.9,103.7 L321.6,102.9 L322.3,101.5 L323.0,99.8 L323.5,99.0 L324.0,97.6 L324.5,96.8 L325.0,95.3 L325.5,94.4 L326.0,93.2 L326.5,91.7 L327.0,90.7 L327.5,89.4 L328.0,88.5 L328.5,87.0 L329.0,85.8 L329.4,84.7 L329.9,84.0 L330.3,82.5 L330.7,81.4 L331.1,80.3 L331.6,79.2 L332.0,78.0 L332.4,77.1 L332.9,75.7 L333.3,74.7 L333.8,73.8 L334.2,72.4 L334.6,71.1 L335.0,70.2 L335.3,68.8 L335.5,68.0 L335.7,66.8 L335.9,65.3 L336.1,64.0 L336.3,62.7 L336.5,61.8 L336.7,60.3 L337.0,58.9 L337.3,57.7 L337.5,56.5 L337.8,55.6 L338.1,54.0 L338.4,53.0 L338.8,51.8 L339.1,50.5 L339.4,49.3 L339.7,48.1 L340.0,46.8 L340.4,45.8 L340.8,44.4 L341.1,42.9 L341.5,41.4 L341.9,40.5 L342.2,39.0 L342.6,37.8 L343.0,37.1 L343.7,35.5 L344.4,34.1 L345.2,32.8 L346.0,32.2 L347.3,30.6 L348.8,29.6 L350.0,29.6 L350.8,30.1 L351.4,31.4 L352.0,32.8 L352.3,34.3 L352.7,35.3 L353.0,36.5 L353.3,38.3 L353.7,39.8 L354.0,40.8 L354.3,42.3 L354.7,43.8 L355.0,44.8 L355.3,46.1 L355.7,47.7 L356.0,49.0 L356.2,50.4 L356.5,51.5 L356.8,52.7 L357.0,53.9 L357.2,54.9 L357.5,56.5 L357.8,57.7 L358.0,59.0 L358.2,60.2 L358.4,61.3 L358.7,62.5 L358.9,64.1 L359.1,65.1 L359.3,66.2 L359.6,67.8 L359.8,68.8 L360.0,70.1 L360.2,71.2 L360.5,72.4 L360.8,73.8 L361.0,75.4 L361.2,76.3 L361.5,77.9 L361.8,78.8 L362.0,80.2 L362.3,81.3 L362.7,82.7 L363.0,83.8 L363.3,85.1 L363.7,86.6 L364.0,87.9 L364.2,89.2 L364.5,90.2 L364.8,91.5 L365.0,92.8 L365.2,94.4 L365.5,95.2 L365.8,96.7 L366.0,98.2 L366.2,99.3 L366.5,100.4 L366.8,102.1 L367.0,103.0 L367.2,104.3 L367.5,105.5 L367.8,106.9 L368.0,108.2 L368.4,109.3 L368.7,110.7 L369.1,112.3 L369.5,113.1 L369.8,114.0 L370.0,115.0" fill="none" stroke="#f01818" stroke-width="1.15" stroke-linejoin="round"/>
<path d="M390.1,118.5 H492.9" stroke="#2a2a2a" stroke-width="1.3"/>
<rect x="390.6" y="19.5" width="101.8" height="98.9" fill="none" stroke="#3a3a3a" stroke-width="1"/>
<text transform="translate(381.4,22.5) scale(0.88,1)" class="yl" fill="#3a2a6a">1</text>
<text transform="translate(381.4,121.5) scale(0.88,1)" class="yl" fill="#4a6f96">0</text>
<path d="M385.2,19.5 h5 M385.2,118.4 h5" stroke="#444" stroke-width="0.9"/>
<path d="M390.6,118.4 v4.8 M400.8,118.4 v2.8 M406.8,118.4 v2.8 M411.0,118.4 v2.8 M414.3,118.4 v2.8 M417.0,118.4 v2.8 M419.3,118.4 v2.8 M421.2,118.4 v2.8 M423.0,118.4 v2.8 M424.5,118.4 v4.8 M434.7,118.4 v2.8 M440.7,118.4 v2.8 M445.0,118.4 v2.8 M448.3,118.4 v2.8 M450.9,118.4 v2.8 M453.2,118.4 v2.8 M455.2,118.4 v2.8 M456.9,118.4 v2.8 M458.5,118.4 v4.8 M468.7,118.4 v2.8 M474.7,118.4 v2.8 M478.9,118.4 v2.8 M482.2,118.4 v2.8 M484.9,118.4 v2.8 M487.1,118.4 v2.8 M489.1,118.4 v2.8 M490.8,118.4 v2.8 M492.4,118.4 v4.8" stroke="#151515" stroke-width="1.1" fill="none"/>
<text transform="translate(386.8,130.6) scale(0.87,1)" class="tk" font-size="7.3">1×10<tspan dy="-2.6" font-size="4.5">0</tspan></text>
<text transform="translate(420.3,130.6) scale(0.87,1)" class="tk" font-size="7.3">1×10<tspan dy="-2.6" font-size="4.5">1</tspan></text>
<text transform="translate(453.9,130.6) scale(0.87,1)" class="tk" font-size="7.3">1×10<tspan dy="-2.6" font-size="4.5">2</tspan></text>
<text transform="translate(488.3,130.6) scale(0.87,1)" class="tk" font-size="7.3">1×10<tspan dy="-2.6" font-size="4.5">3</tspan></text>
<text x="430.6" y="14.6" class="ttl" textLength="21.8" lengthAdjust="spacingAndGlyphs">CD80</text>
<path d="M391.0,86.0 L391.0,85.4 L391.0,84.2 L391.0,83.4 L391.0,82.0 L391.0,81.0 L391.0,79.8 L391.1,78.2 L391.1,76.7 L391.1,75.4 L391.1,74.1 L391.2,72.3 L391.2,71.1 L391.3,69.9 L391.4,68.7 L391.5,67.3 L391.6,66.2 L391.8,64.8 L391.9,63.8 L392.0,62.3 L392.2,61.0 L392.4,59.7 L392.5,58.5 L392.7,57.3 L392.8,56.4 L393.0,55.0 L393.2,53.6 L393.3,52.6 L393.5,51.2 L393.7,49.8 L393.9,48.2 L394.1,47.0 L394.3,45.8 L394.4,44.4 L394.6,43.2 L394.8,42.0 L395.0,40.9 L395.2,39.6 L395.5,38.2 L395.8,36.7 L396.0,35.4 L396.2,34.3 L396.5,33.1 L396.8,31.7 L397.0,31.2 L397.5,29.3 L398.0,27.9 L398.5,27.1 L399.0,26.1 L400.0,24.8 L401.0,24.4 L402.0,25.2 L403.0,27.0 L403.3,27.9 L403.7,28.9 L404.0,30.4 L404.4,31.7 L404.7,33.5 L405.0,35.0 L405.2,35.9 L405.3,37.3 L405.5,38.3 L405.6,39.3 L405.8,40.6 L405.9,41.8 L406.0,43.2 L406.1,44.7 L406.3,46.0 L406.4,47.1 L406.5,48.0 L406.7,49.3 L406.8,50.5 L406.9,51.8 L407.0,53.1 L407.1,54.0 L407.3,55.5 L407.4,56.6 L407.5,57.9 L407.6,59.2 L407.7,60.2 L407.8,61.5 L407.9,62.5 L408.0,63.8 L408.1,65.0 L408.2,65.9 L408.3,67.4 L408.4,68.7 L408.6,69.8 L408.8,71.0 L408.9,72.6 L409.1,73.6 L409.4,74.8 L409.6,76.2 L409.8,77.6 L410.1,78.9 L410.3,80.2 L410.5,81.4 L410.8,82.6 L411.0,84.0 L411.2,85.3 L411.5,86.3 L411.7,87.8 L412.0,88.9 L412.2,90.4 L412.5,91.6 L412.8,92.4 L413.0,93.8 L413.3,94.8 L413.6,95.8 L413.9,97.5 L414.3,98.8 L414.7,100.0 L415.0,101.2 L415.4,102.7 L415.8,103.7 L416.2,104.9 L416.6,106.0 L417.0,107.2 L417.6,108.6 L418.3,109.7 L418.9,110.8 L419.6,112.1 L420.3,113.1 L421.0,113.9 L421.9,115.1 L422.9,115.9 L423.9,116.5 L424.9,117.0 L426.0,117.5 L427.2,117.6 L428.6,118.0 L430.0,117.8 L431.2,118.2 L432.0,118.0" fill="none" stroke="#1a1a1a" stroke-width="0.9" stroke-linejoin="round"/>
<path d="M391.0,118.0 L391.5,117.4 L392.2,116.1 L393.0,114.8 L393.7,114.0 L394.4,112.8 L395.2,111.6 L396.0,109.8 L396.4,109.2 L396.9,108.0 L397.3,106.9 L397.7,105.8 L398.1,104.6 L398.6,103.2 L399.0,101.9 L399.4,100.8 L399.8,99.4 L400.1,98.3 L400.5,97.3 L400.9,95.6 L401.2,94.3 L401.6,93.4 L402.0,91.9 L402.4,90.8 L402.8,89.6 L403.1,88.4 L403.5,87.0 L403.9,86.0 L404.2,84.4 L404.6,83.5 L405.0,81.9 L405.3,81.0 L405.6,79.7 L406.0,78.8 L406.3,77.4 L406.6,76.4 L406.9,75.0 L407.2,74.0 L407.5,72.8 L407.8,71.2 L408.0,70.1 L408.2,69.1 L408.3,67.5 L408.4,66.2 L408.4,65.3 L408.5,63.9 L408.6,62.2 L408.6,61.2 L408.7,60.0 L408.7,58.4 L408.8,57.4 L408.9,56.0 L409.0,55.1 L409.2,53.5 L409.4,52.1 L409.7,50.6 L409.9,49.6 L410.2,48.5 L410.5,47.1 L410.7,45.9 L411.0,44.8 L411.3,43.4 L411.7,42.3 L412.0,40.8 L412.3,39.6 L412.7,38.3 L413.0,36.8 L413.5,35.4 L414.0,34.3 L414.5,33.1 L415.0,32.2 L415.8,30.7 L416.6,30.1 L417.5,31.3 L418.4,33.2 L419.1,34.1 L419.8,35.1 L420.4,36.9 L420.7,37.8 L420.9,39.1 L421.2,40.5 L421.5,41.8 L421.7,43.3 L422.0,44.8 L422.2,46.0 L422.4,47.1 L422.6,48.3 L422.8,49.7 L423.0,50.5 L423.2,51.8 L423.4,53.0 L423.6,54.7 L423.8,55.8 L424.0,57.1 L424.2,58.4 L424.4,59.3 L424.6,61.1 L424.8,62.1 L425.0,63.6 L425.2,64.8 L425.4,66.3 L425.6,67.3 L425.8,68.6 L426.0,69.9 L426.2,71.4 L426.3,72.4 L426.5,73.5 L426.6,74.8 L426.8,76.1 L427.0,77.2 L427.1,78.5 L427.3,79.8 L427.4,80.9 L427.6,82.2 L427.8,83.1 L428.0,84.6 L428.2,85.9 L428.4,86.9 L428.6,87.8 L428.8,89.1 L429.0,90.6 L429.2,91.8 L429.4,93.0 L429.6,94.0 L429.8,95.3 L430.1,96.4 L430.4,97.9 L430.6,99.4 L430.9,100.3 L431.2,101.7 L431.5,103.0 L431.7,104.0 L432.0,104.9 L432.4,106.3 L432.8,107.8 L433.1,109.1 L433.5,110.2 L433.9,110.9 L434.4,112.1 L435.0,113.3 L435.7,114.3 L436.4,115.5 L437.2,116.2 L438.0,116.9 L439.3,117.3 L440.7,117.9 L442.1,118.0 L443.0,118.0" fill="none" stroke="#2020f0" stroke-width="1.15" stroke-linejoin="round"/>
<path d="M391.5,118.0 L392.1,117.1 L393.0,116.2 L394.0,115.3 L395.1,114.1 L396.0,113.1 L396.7,111.8 L397.4,110.9 L398.1,109.7 L398.8,108.3 L399.4,107.4 L400.0,106.0 L400.6,104.9 L401.1,103.8 L401.6,102.6 L402.0,101.3 L402.5,100.5 L403.0,99.1 L403.4,97.9 L403.9,96.6 L404.3,95.4 L404.7,93.9 L405.1,92.5 L405.6,91.4 L406.0,90.2 L406.4,88.6 L406.8,87.8 L407.1,86.3 L407.5,85.3 L407.9,83.9 L408.3,82.4 L408.6,81.1 L409.0,80.2 L409.3,79.0 L409.7,77.7 L410.0,76.4 L410.4,75.2 L410.7,74.1 L411.0,72.9 L411.3,71.6 L411.6,69.9 L411.8,69.0 L412.0,67.8 L412.2,66.3 L412.4,64.7 L412.6,63.5 L412.8,62.3 L413.0,60.9 L413.2,59.8 L413.4,58.3 L413.6,57.1 L413.8,55.6 L414.1,54.5 L414.3,53.4 L414.5,52.2 L414.8,51.0 L415.0,49.5 L415.3,48.4 L415.5,47.5 L415.8,45.9 L416.0,44.8 L416.3,43.5 L416.6,42.3 L416.9,40.8 L417.2,39.6 L417.6,38.4 L417.9,37.2 L418.1,35.7 L418.4,35.1 L419.0,33.3 L419.5,32.0 L420.0,31.2 L420.8,29.9 L421.6,29.5 L422.2,30.2 L422.9,31.3 L423.6,32.8 L424.0,33.9 L424.4,35.4 L424.8,36.4 L425.2,37.9 L425.6,39.6 L426.0,41.1 L426.2,42.2 L426.4,43.0 L426.6,44.2 L426.8,45.1 L427.1,46.3 L427.2,47.5 L427.4,48.9 L427.6,50.2 L427.8,51.4 L428.0,53.1 L428.1,53.9 L428.2,55.1 L428.4,56.1 L428.5,57.6 L428.6,58.6 L428.7,60.3 L428.8,61.3 L428.9,62.8 L429.0,63.9 L429.1,65.1 L429.2,66.6 L429.4,67.6 L429.5,68.9 L429.6,70.1 L429.8,71.6 L429.9,72.9 L430.1,73.9 L430.3,75.4 L430.5,76.9 L430.7,78.1 L430.9,79.1 L431.0,80.2 L431.2,81.5 L431.4,82.9 L431.6,83.8 L431.8,85.5 L432.0,86.4 L432.2,87.9 L432.4,89.1 L432.6,90.1 L432.8,91.4 L433.0,92.6 L433.2,93.6 L433.4,94.9 L433.6,96.1 L433.8,97.5 L434.1,98.5 L434.3,99.7 L434.6,101.2 L434.9,102.5 L435.1,103.6 L435.4,105.0 L435.7,105.8 L436.0,107.0 L436.5,108.5 L436.9,109.7 L437.4,111.2 L437.9,112.4 L438.4,113.4 L439.0,114.5 L439.9,115.8 L440.9,116.7 L441.9,117.0 L443.0,117.5 L444.3,118.1 L445.8,117.8 L447.1,117.8 L448.0,118.0" fill="none" stroke="#f2f200" stroke-width="1.15" stroke-linejoin="round"/>
<path d="M392.0,118.0 L392.7,117.1 L393.8,116.6 L394.9,115.2 L396.0,114.0 L396.7,112.9 L397.3,112.5 L398.0,111.6 L398.7,110.4 L399.3,109.4 L400.0,108.0 L400.5,106.9 L401.0,105.8 L401.5,104.7 L402.1,103.5 L402.6,102.4 L403.1,101.1 L403.5,99.9 L404.0,99.2 L404.5,97.9 L404.9,96.6 L405.4,95.1 L405.8,93.9 L406.2,92.7 L406.6,91.5 L407.0,89.9 L407.4,88.8 L407.8,87.6 L408.2,86.5 L408.5,85.0 L408.9,83.5 L409.3,82.5 L409.7,81.4 L410.0,79.8 L410.3,78.8 L410.6,77.4 L410.9,76.4 L411.2,75.4 L411.5,73.9 L411.8,72.8 L412.1,71.5 L412.4,69.9 L412.6,69.0 L412.8,67.9 L413.0,66.4 L413.3,65.4 L413.5,64.1 L413.7,62.7 L413.9,61.3 L414.1,60.0 L414.3,58.8 L414.6,57.5 L414.8,56.0 L415.0,55.1 L415.3,53.8 L415.5,52.3 L415.8,51.2 L416.0,49.7 L416.3,48.5 L416.6,47.3 L416.8,46.2 L417.1,44.9 L417.3,44.1 L417.6,42.8 L418.0,41.5 L418.4,40.1 L418.8,39.0 L419.2,38.0 L419.6,37.1 L420.0,35.9 L421.0,34.6 L422.0,34.0 L423.2,34.4 L424.4,35.8 L424.8,37.0 L425.1,37.7 L425.4,38.9 L425.8,40.2 L426.1,41.5 L426.4,42.9 L426.6,44.0 L426.8,45.3 L427.0,46.4 L427.2,47.8 L427.4,49.2 L427.6,50.5 L427.8,51.6 L428.0,53.1 L428.2,54.3 L428.4,55.5 L428.6,56.6 L428.8,57.7 L429.0,59.3 L429.3,60.5 L429.5,61.6 L429.7,63.0 L429.8,63.8 L430.0,65.1 L430.2,66.8 L430.4,68.2 L430.5,68.9 L430.6,70.5 L430.8,72.1 L430.9,72.8 L431.1,74.1 L431.2,75.0 L431.3,76.3 L431.5,77.4 L431.6,78.8 L431.8,80.3 L432.0,81.5 L432.2,82.9 L432.4,84.2 L432.6,85.0 L432.8,86.5 L433.0,87.7 L433.3,88.8 L433.5,89.9 L433.8,91.0 L434.0,92.3 L434.3,93.5 L434.5,94.6 L434.8,96.0 L435.0,97.1 L435.3,98.2 L435.6,99.5 L435.9,101.0 L436.2,102.4 L436.5,103.6 L436.7,104.8 L437.0,106.1 L437.3,107.1 L437.6,108.0 L438.1,109.7 L438.5,111.1 L438.9,112.2 L439.4,113.2 L440.0,114.3 L440.9,115.6 L441.8,116.5 L442.9,117.0 L444.0,117.6 L445.3,117.7 L446.8,118.0 L448.1,118.0 L449.0,118.0" fill="none" stroke="#0e9a1e" stroke-width="1.15" stroke-linejoin="round"/>
<path d="M392.0,118.0 L392.8,117.9 L394.0,117.5 L395.4,116.7 L396.8,116.7 L398.0,115.8 L399.3,115.7 L400.6,115.1 L401.8,114.2 L403.0,113.5 L404.0,112.8 L405.0,112.5 L406.1,111.7 L407.1,111.0 L408.0,110.2 L409.1,109.0 L410.1,108.2 L411.1,107.0 L412.0,105.9 L412.8,104.8 L413.6,103.7 L414.3,102.3 L415.0,101.0 L415.6,99.9 L416.2,98.9 L416.8,97.6 L417.4,96.3 L418.0,95.0 L418.4,94.0 L418.9,93.0 L419.3,91.6 L419.7,90.4 L420.2,89.2 L420.6,88.2 L421.0,87.2 L421.4,85.8 L421.8,84.5 L422.2,83.4 L422.5,82.0 L422.9,80.4 L423.3,79.1 L423.6,78.0 L424.0,76.6 L424.3,75.6 L424.6,74.2 L425.0,73.1 L425.3,71.8 L425.6,69.9 L425.8,68.8 L425.9,68.0 L426.1,66.5 L426.3,65.6 L426.4,64.2 L426.6,62.9 L426.8,61.4 L426.9,60.0 L427.1,58.6 L427.3,57.2 L427.4,56.4 L427.6,54.9 L427.8,53.5 L428.0,52.6 L428.2,51.1 L428.4,49.9 L428.6,48.8 L428.8,47.6 L429.0,46.2 L429.2,45.1 L429.4,44.1 L429.6,43.1 L429.9,41.4 L430.2,40.0 L430.5,38.7 L430.8,37.2 L431.1,36.3 L431.3,35.1 L431.6,33.8 L432.0,32.5 L432.4,31.2 L432.8,30.0 L433.2,29.4 L433.9,28.7 L434.6,28.6 L435.5,29.4 L436.4,30.9 L436.7,32.2 L437.1,33.3 L437.4,34.6 L437.8,35.7 L438.1,37.4 L438.4,38.8 L438.6,40.1 L438.8,41.2 L439.0,42.4 L439.2,43.7 L439.4,44.8 L439.6,46.2 L439.8,47.6 L440.0,48.8 L440.2,50.2 L440.3,51.5 L440.5,52.7 L440.7,54.0 L440.8,54.9 L441.0,56.4 L441.2,57.4 L441.3,59.0 L441.5,59.9 L441.6,61.1 L441.8,62.6 L441.9,63.5 L442.0,64.7 L442.1,66.2 L442.3,67.5 L442.4,68.6 L442.6,69.8 L442.7,70.8 L442.9,72.4 L443.1,73.5 L443.3,74.5 L443.4,75.9 L443.6,77.2 L443.8,78.1 L444.0,79.7 L444.2,81.0 L444.4,82.2 L444.6,83.4 L444.8,84.4 L445.0,85.7 L445.2,86.7 L445.4,88.2 L445.6,89.4 L445.8,90.4 L446.0,91.4 L446.2,92.7 L446.4,94.0 L446.6,95.5 L446.8,96.6 L447.0,98.0 L447.3,99.0 L447.5,100.2 L447.7,101.5 L447.9,102.7 L448.2,104.1 L448.4,104.9 L448.7,106.2 L449.1,107.7 L449.5,108.8 L449.8,110.2 L450.2,111.2 L450.6,112.3 L451.0,113.0 L451.7,114.3 L452.4,115.4 L453.1,116.5 L454.0,117.2 L455.2,117.5 L456.7,117.7 L458.1,117.7 L459.0,118.0" fill="none" stroke="#f01818" stroke-width="1.15" stroke-linejoin="round"/>
<rect x="452" y="32" width="98" height="54" fill="#fff"/>
<rect x="456" y="36.4" width="18" height="5.8" fill="#2e8b3a"/>
<text x="479.6" y="42.2" class="lg" textLength="40.0" lengthAdjust="spacingAndGlyphs">Contro DCs</text>
<rect x="456" y="45.2" width="18" height="6.0" fill="#f4f400" stroke="#8a8a50" stroke-width="0.6"/>
<text x="478.0" y="51.6" class="lg" textLength="50.0" lengthAdjust="spacingAndGlyphs">DCs+ iDCs exo</text>
<rect x="456" y="53.7" width="18" height="5.7" fill="#fa0808"/>
<text x="478.0" y="60.9" class="lg" textLength="66.4" lengthAdjust="spacingAndGlyphs">DCs+ Stim DCs exo</text>
<rect x="456" y="63.3" width="18" height="6.7" fill="#1a78c8"/>
<text x="478.0" y="71.2" class="lg" textLength="64.0" lengthAdjust="spacingAndGlyphs">DCs+ Reg DCs exo</text>
<rect x="456" y="73.6" width="18" height="6.2" fill="#0a0a0a"/>
<text x="479.6" y="81.0" class="lg" textLength="36.4" lengthAdjust="spacingAndGlyphs">Unstained</text>
<text x="81.0" y="161.0" class="bt">PDL1</text>
<text transform="translate(18.6,201.4) rotate(-90)" class="mfi">MFI</text>
<text x="32.0" y="172.7" class="yt">200</text>
<text x="32.0" y="188.2" class="yt">150</text>
<text x="32.0" y="203.8" class="yt">100</text>
<text x="32.0" y="219.4" class="yt">50</text>
<text x="32.0" y="234.7" class="yt">0</text>
<rect x="37.8" y="218.1" width="15.8" height="14.4" fill="#10b845" stroke="#111" stroke-width="0.8"/>
<rect x="61.5" y="217.8" width="15.5" height="14.7" fill="#ecd20c" stroke="#111" stroke-width="0.8"/>
<path d="M92.7,210.2 V209.6 M88.8,209.6 H96.6" stroke="#111" stroke-width="0.7" fill="none"/>
<rect x="84.8" y="210.2" width="15.8" height="22.3" fill="#f20d2d" stroke="#111" stroke-width="0.8"/>
<path d="M116.0,179.1 V177.0 M111.9,177.0 H120.0" stroke="#111" stroke-width="0.7" fill="none"/>
<rect x="107.9" y="179.1" width="16.1" height="53.4" fill="#0404ec" stroke="#111" stroke-width="0.8"/>
<path d="M33.8,170.1 V232.5 H127.0 M33.8,170.5 h-1.8 M33.8,186.0 h-1.8 M33.8,201.6 h-1.8 M33.8,217.2 h-1.8 M33.8,232.5 h-1.8 M45.7,232.5 v2.0 M69.2,232.5 v2.0 M92.7,232.5 v2.0 M116.0,232.5 v2.0" stroke="#111" stroke-width="1.1" fill="none"/>
<path d="M73.3,177.0 H109.5 M73.3,176.3 v1.4 M109.5,176.3 v1.4" stroke="#606060" stroke-width="0.6" fill="none"/>
<text x="91.6" y="177.8" class="st">***</text>
<path d="M46.6,186.4 H117.6 M46.6,185.7 v1.4 M117.6,185.7 v1.4" stroke="#606060" stroke-width="0.6" fill="none"/>
<text x="82.2" y="187.2" class="st">***</text>
<path d="M47.0,197.3 H89.6 M47.0,196.6 v1.4 M89.6,196.6 v1.4" stroke="#606060" stroke-width="0.6" fill="none"/>
<text x="65.6" y="198.1" class="st">*</text>
<path d="M67.4,203.6 H89.0 M67.4,202.9 v1.4 M89.0,202.9 v1.4" stroke="#606060" stroke-width="0.6" fill="none"/>
<text x="77.0" y="205.4" class="st">*</text>
<path d="M95.4,203.1 H119.0 M95.4,202.4 v1.4 M119.0,202.4 v1.4" stroke="#606060" stroke-width="0.6" fill="none"/>
<text x="106.9" y="203.6" class="st">***</text>
<path d="M46.4,212.6 H67.6 M46.4,211.9 v1.4 M67.6,211.9 v1.4" stroke="#606060" stroke-width="0.6" fill="none"/>
<text x="56.5" y="210.2" class="ns">NS</text>
<text transform="translate(47.2,238.1) rotate(-44)" class="xl" font-size="5.25" xml:space="preserve">Control  DCs</text>
<text transform="translate(71.4,238.1) rotate(-44)" class="xl" font-size="5.25" xml:space="preserve">DCs + iDC exo</text>
<text transform="translate(94.4,238.1) rotate(-44)" class="xl" font-size="5.25" xml:space="preserve">DCs + Stim DC exo</text>
<text transform="translate(117.6,238.1) rotate(-44)" class="xl" font-size="5.25" xml:space="preserve">DCs + Reg DC exo</text>
<text x="200.7" y="158.0" class="bt">CD86</text>
<text transform="translate(135.2,200.0) rotate(-90)" class="mfi">MFI</text>
<text x="150.1" y="168.4" class="yt">400</text>
<text x="150.1" y="184.8" class="yt">300</text>
<text x="150.1" y="201.1" class="yt">200</text>
<text x="150.1" y="217.4" class="yt">100</text>
<text x="150.1" y="233.7" class="yt">0</text>
<path d="M163.7,216.5 V216.0 M159.4,216.0 H168.0" stroke="#111" stroke-width="0.7" fill="none"/>
<rect x="155.4" y="216.5" width="16.6" height="15.0" fill="#10b845" stroke="#111" stroke-width="0.8"/>
<path d="M188.4,216.5 V216.0 M184.1,216.0 H192.7" stroke="#111" stroke-width="0.7" fill="none"/>
<rect x="180.1" y="216.5" width="16.6" height="15.0" fill="#ecd20c" stroke="#111" stroke-width="0.8"/>
<path d="M212.8,186.6 V184.5 M208.6,184.5 H217.1" stroke="#111" stroke-width="0.7" fill="none"/>
<rect x="204.6" y="186.6" width="16.5" height="44.9" fill="#f20d2d" stroke="#111" stroke-width="0.8"/>
<rect x="229.2" y="228.5" width="16.6" height="3.0" fill="#0404ec" stroke="#111" stroke-width="0.8"/>
<path d="M151.9,165.8 V231.5 H249.6 M151.9,166.2 h-1.8 M151.9,182.6 h-1.8 M151.9,198.9 h-1.8 M151.9,215.2 h-1.8 M151.9,231.5 h-1.8 M163.7,231.5 v2.0 M188.4,231.5 v2.0 M212.8,231.5 v2.0 M237.5,231.5 v2.0" stroke="#111" stroke-width="1.1" fill="none"/>
<path d="M161.0,173.1 H238.9 M161.0,172.4 v1.4 M238.9,172.4 v1.4" stroke="#606060" stroke-width="0.6" fill="none"/>
<text x="201.2" y="174.4" class="st">**</text>
<path d="M181.7,178.7 H238.1 M181.7,178.0 v1.4 M238.1,178.0 v1.4" stroke="#606060" stroke-width="0.6" fill="none"/>
<text x="203.8" y="179.8" class="st">**</text>
<path d="M165.6,194.8 H210.9 M165.6,194.1 v1.4 M210.9,194.1 v1.4" stroke="#606060" stroke-width="0.6" fill="none"/>
<text x="186.5" y="194.7" class="st">***</text>
<path d="M186.5,201.8 H209.6 M186.5,201.1 v1.4 M209.6,201.1 v1.4" stroke="#606060" stroke-width="0.6" fill="none"/>
<text x="193.6" y="201.9" class="st">***</text>
<path d="M216.5,201.8 H237.4 M216.5,201.1 v1.4 M237.4,201.1 v1.4" stroke="#606060" stroke-width="0.6" fill="none"/>
<text x="227.5" y="201.7" class="st">***</text>
<path d="M164.4,210.2 H186.5 M164.4,209.5 v1.4 M186.5,209.5 v1.4" stroke="#606060" stroke-width="0.6" fill="none"/>
<text x="175.3" y="207.9" class="ns">NS</text>
<text transform="translate(165.5,238.1) rotate(-44)" class="xl" font-size="5.40" xml:space="preserve">Control  DCs</text>
<text transform="translate(190.2,238.1) rotate(-44)" class="xl" font-size="5.40" xml:space="preserve">DCs + iDC exo</text>
<text transform="translate(214.6,238.1) rotate(-44)" class="xl" font-size="5.40" xml:space="preserve">DCs + Stim DC exo</text>
<text transform="translate(239.2,238.1) rotate(-44)" class="xl" font-size="5.40" xml:space="preserve">DCs + Reg DC exo</text>
<text x="323.8" y="159.0" class="bt">HLADR</text>
<text transform="translate(260.2,200.0) rotate(-90)" class="mfi">MFI</text>
<text x="273.6" y="169.2" class="yt">250</text>
<text x="273.6" y="182.1" class="yt">200</text>
<text x="273.6" y="194.9" class="yt">150</text>
<text x="273.6" y="207.8" class="yt">100</text>
<text x="273.6" y="220.6" class="yt">50</text>
<text x="273.6" y="233.4" class="yt">0</text>
<path d="M287.8,206.1 V204.8 M283.8,204.8 H291.8" stroke="#111" stroke-width="0.7" fill="none"/>
<rect x="279.8" y="206.1" width="16.0" height="25.1" fill="#10b845" stroke="#111" stroke-width="0.8"/>
<path d="M312.0,203.7 V202.6 M308.0,202.6 H316.0" stroke="#111" stroke-width="0.7" fill="none"/>
<rect x="304.0" y="203.7" width="16.0" height="27.5" fill="#ecd20c" stroke="#111" stroke-width="0.8"/>
<path d="M336.1,185.3 V182.7 M332.1,182.7 H340.1" stroke="#111" stroke-width="0.7" fill="none"/>
<rect x="328.1" y="185.3" width="16.0" height="45.9" fill="#f20d2d" stroke="#111" stroke-width="0.8"/>
<path d="M360.2,208.8 V208.3 M356.1,208.3 H364.3" stroke="#111" stroke-width="0.7" fill="none"/>
<rect x="352.1" y="208.8" width="16.2" height="22.4" fill="#0404ec" stroke="#111" stroke-width="0.8"/>
<path d="M275.4,166.6 V231.2 H372.0 M275.4,167.0 h-1.8 M275.4,179.9 h-1.8 M275.4,192.7 h-1.8 M275.4,205.6 h-1.8 M275.4,218.4 h-1.8 M275.4,231.2 h-1.8 M287.8,231.2 v2.0 M312.0,231.2 v2.0 M336.1,231.2 v2.0 M360.2,231.2 v2.0" stroke="#111" stroke-width="1.1" fill="none"/>
<path d="M285.1,174.3 H361.2 M285.1,173.6 v1.4 M361.2,173.6 v1.4" stroke="#606060" stroke-width="0.6" fill="none"/>
<text x="325.6" y="172.6" class="ns">NS</text>
<path d="M305.2,179.4 H361.2 M305.2,178.7 v1.4 M361.2,178.7 v1.4" stroke="#606060" stroke-width="0.6" fill="none"/>
<text x="328.9" y="178.5" class="ns">NS</text>
<path d="M289.4,195.2 H333.5 M289.4,194.5 v1.4 M333.5,194.5 v1.4" stroke="#606060" stroke-width="0.6" fill="none"/>
<text x="309.0" y="195.6" class="st">**</text>
<path d="M287.4,200.3 H310.3 M287.4,199.6 v1.4 M310.3,199.6 v1.4" stroke="#606060" stroke-width="0.6" fill="none"/>
<text x="298.9" y="199.9" class="ns">NS</text>
<path d="M311.0,201.0 H332.7 M311.0,200.3 v1.4 M332.7,200.3 v1.4" stroke="#606060" stroke-width="0.6" fill="none"/>
<text x="317.4" y="202.4" class="st">**</text>
<path d="M339.0,201.4 H360.0 M339.0,200.7 v1.4 M360.0,200.7 v1.4" stroke="#606060" stroke-width="0.6" fill="none"/>
<text x="349.2" y="201.4" class="st">**</text>
<text transform="translate(289.5,238.1) rotate(-44)" class="xl" font-size="5.40" xml:space="preserve">Control  DCs</text>
<text transform="translate(313.7,238.1) rotate(-44)" class="xl" font-size="5.40" xml:space="preserve">DCs + iDC exo</text>
<text transform="translate(337.8,238.1) rotate(-44)" class="xl" font-size="5.40" xml:space="preserve">DCs + Stim DC exo</text>
<text transform="translate(362.0,238.1) rotate(-44)" class="xl" font-size="5.40" xml:space="preserve">DCs + Reg DC exo</text>
<text x="445.6" y="158.5" class="bt">CD80</text>
<text transform="translate(380.2,199.2) rotate(-90)" class="mfi">MFI</text>
<text x="395.4" y="168.9" class="yt">100</text>
<text x="395.4" y="181.9" class="yt">80</text>
<text x="395.4" y="194.9" class="yt">60</text>
<text x="395.4" y="208.0" class="yt">40</text>
<text x="395.4" y="221.0" class="yt">20</text>
<text x="395.4" y="234.0" class="yt">0</text>
<rect x="401.3" y="205.5" width="16.3" height="26.3" fill="#10b845" stroke="#111" stroke-width="0.8"/>
<path d="M433.6,209.6 V206.8 M429.4,206.8 H437.8" stroke="#111" stroke-width="0.7" fill="none"/>
<rect x="425.4" y="209.6" width="16.4" height="22.2" fill="#ecd20c" stroke="#111" stroke-width="0.8"/>
<path d="M457.6,176.1 V174.4 M453.4,174.4 H461.9" stroke="#111" stroke-width="0.7" fill="none"/>
<rect x="449.4" y="176.1" width="16.5" height="55.7" fill="#f20d2d" stroke="#111" stroke-width="0.8"/>
<rect x="473.6" y="216.5" width="16.5" height="15.3" fill="#0404ec" stroke="#111" stroke-width="0.8"/>
<path d="M397.2,166.3 V231.8 H494.7 M397.2,166.7 h-1.8 M397.2,179.7 h-1.8 M397.2,192.7 h-1.8 M397.2,205.8 h-1.8 M397.2,218.8 h-1.8 M397.2,231.8 h-1.8 M409.5,231.8 v2.0 M433.6,231.8 v2.0 M457.6,231.8 v2.0 M481.9,231.8 v2.0" stroke="#111" stroke-width="1.1" fill="none"/>
<path d="M406.4,166.2 H482.0 M406.4,165.5 v1.4 M482.0,165.5 v1.4" stroke="#606060" stroke-width="0.6" fill="none"/>
<text x="445.0" y="167.6" class="st">*</text>
<path d="M431.8,172.6 H482.7 M431.8,171.9 v1.4 M482.7,171.9 v1.4" stroke="#606060" stroke-width="0.6" fill="none"/>
<text x="450.9" y="172.3" class="ns">NS</text>
<path d="M411.5,195.2 H454.7 M411.5,194.5 v1.4 M454.7,194.5 v1.4" stroke="#606060" stroke-width="0.6" fill="none"/>
<text x="430.3" y="195.6" class="st">**</text>
<path d="M408.2,200.6 H431.0 M408.2,199.9 v1.4 M431.0,199.9 v1.4" stroke="#606060" stroke-width="0.6" fill="none"/>
<text x="420.1" y="200.3" class="ns">NS</text>
<path d="M432.8,201.0 H454.7 M432.8,200.3 v1.4 M454.7,200.3 v1.4" stroke="#606060" stroke-width="0.6" fill="none"/>
<text x="438.0" y="202.4" class="st">**</text>
<path d="M460.8,201.6 H482.0 M460.8,200.9 v1.4 M482.0,200.9 v1.4" stroke="#606060" stroke-width="0.6" fill="none"/>
<text x="471.0" y="201.9" class="st">**</text>
<text transform="translate(411.2,238.1) rotate(-44)" class="xl" font-size="5.40" xml:space="preserve">Control  DCs</text>
<text transform="translate(435.3,238.1) rotate(-44)" class="xl" font-size="5.40" xml:space="preserve">DCs + iDC exo</text>
<text transform="translate(459.4,238.1) rotate(-44)" class="xl" font-size="5.40" xml:space="preserve">DCs + Stim DC exo</text>
<text transform="translate(483.6,238.1) rotate(-44)" class="xl" font-size="5.40" xml:space="preserve">DCs + Reg DC exo</text>
<text x="6.1" y="163.3" class="pan" style="font-size:11.6px" textLength="6" lengthAdjust="spacingAndGlyphs">B</text>
</svg>
</body></html>
